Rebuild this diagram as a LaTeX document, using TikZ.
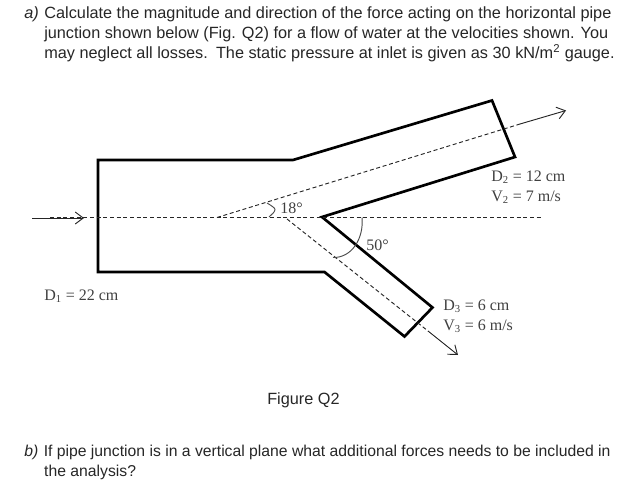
\documentclass[tikz,border=0pt]{standalone}
\usepackage{fontspec}
\setmainfont{Liberation Sans}
\newfontfamily\labelfont{Liberation Serif}
\usetikzlibrary{arrows.meta}

\tikzset{
  wall/.style={line width=2pt, line join=miter},
  centre/.style={line width=0.7pt, dash pattern=on 3pt off 2pt, black!85},
  flow/.style={-{Straight Barb[length=6pt,width=9pt]}, line width=0.7pt, black!85},
  txt/.style={align=left, anchor=north west, inner sep=0pt, font=\fontsize{12.2}{15}\selectfont, black!85},
  lbl/.style={align=left, anchor=west, inner sep=0pt, font=\labelfont\fontsize{12}{15}\selectfont, black!75},
  anglearc/.style={line width=0.7pt, black!70}
}

\begin{document}
\begin{tikzpicture}[x=0.75pt, y=-0.75pt]
\useasboundingbox (0,0) rectangle (641,489);

% Text
\node[txt] (QuestionA) at (24,6) {\textit{a)}\hspace{0.35em}Calculate the magnitude and direction of the force acting on the horizontal pipe\\
\hspace{1.23em}junction shown below (Fig. Q2) for a flow of water at the velocities shown. You\\
\hspace{1.23em}may neglect all losses.\hspace{0.5em}The static pressure at inlet is given as 30 kN/m\textsuperscript{2} gauge.};
\node[txt, font=\fontsize{11.8}{15}\selectfont] (QuestionB) at (24,445) {\textit{b)}\hspace{0.35em}If pipe junction is in a vertical plane what additional forces needs to be included in\\
\hspace{1.27em}the analysis?};
\node[txt, anchor=west] (Caption) at (267,400) {Figure Q2};

% Pipe
\coordinate (InTop) at (98,160);
\coordinate (InBottom) at (98,272);
\coordinate (JoinTop) at (293,160);
\coordinate (OutTwoTop) at (492,100.5);
\coordinate (OutTwoBottom) at (515,157);
\coordinate (Crotch) at (322,217);
\coordinate (OutThreeTop) at (432.5,307.5);
\coordinate (OutThreeBottom) at (404.5,336.5);
\coordinate (JoinBottom) at (324.5,272);

\draw[wall] (InBottom) -- (InTop) -- (JoinTop) -- (OutTwoTop) -- (OutTwoBottom) -- (Crotch) -- (OutThreeTop) -- (OutThreeBottom) -- (JoinBottom) -- cycle;

% Centre lines
\coordinate (InStart) at (32,218);
\coordinate (InDash) at (50,217.5);
\coordinate (InTip) at (84,218);
\coordinate (AxisEnd) at (543,217.5);
\coordinate (UpStart) at (217,217.5);
\coordinate (UpDash) at (520,124);
\coordinate (UpTip) at (566,110.5);
\coordinate (DownStart) at (287,219);
\coordinate (DownDash) at (428,331);
\coordinate (DownTip) at (458,355);

\draw[centre] (InDash) -- (AxisEnd);
\draw[centre] (UpStart) -- (UpDash);
\draw[centre] (DownStart) -- (DownDash);
\draw[flow] (InStart) -- (InTip);
\draw[flow] (UpDash) -- (UpTip);
\draw[flow] (DownDash) -- (DownTip);

% Angles
\coordinate (SmallA) at (267,203);
\coordinate (SmallB) at (269,217);
\coordinate (BigA) at (362,217.5);
\coordinate (BigB) at (333,257.5);
\draw[anglearc] (SmallA) .. controls (272,206) and (275,208) .. (275,209.5) .. controls (275,212) and (272,214) .. (SmallB);
\draw[anglearc] (BigA) .. controls (364,238) and (352,258) .. (BigB);

% Labels
\node[lbl] (AngleUp) at (280,208) {18°};
\node[lbl] (AngleDown) at (366,245) {50°};
\node[lbl] (LabelOne) at (44,296) {D\textsubscript{1} = 22 cm};
\node[lbl] (LabelTwo) at (491,187) {D\textsubscript{2} = 12 cm\\V\textsubscript{2} = 7 m/s};
\node[lbl] (LabelThree) at (443,316) {D\textsubscript{3} = 6 cm\\V\textsubscript{3} = 6 m/s};
\end{tikzpicture}
\end{document}
